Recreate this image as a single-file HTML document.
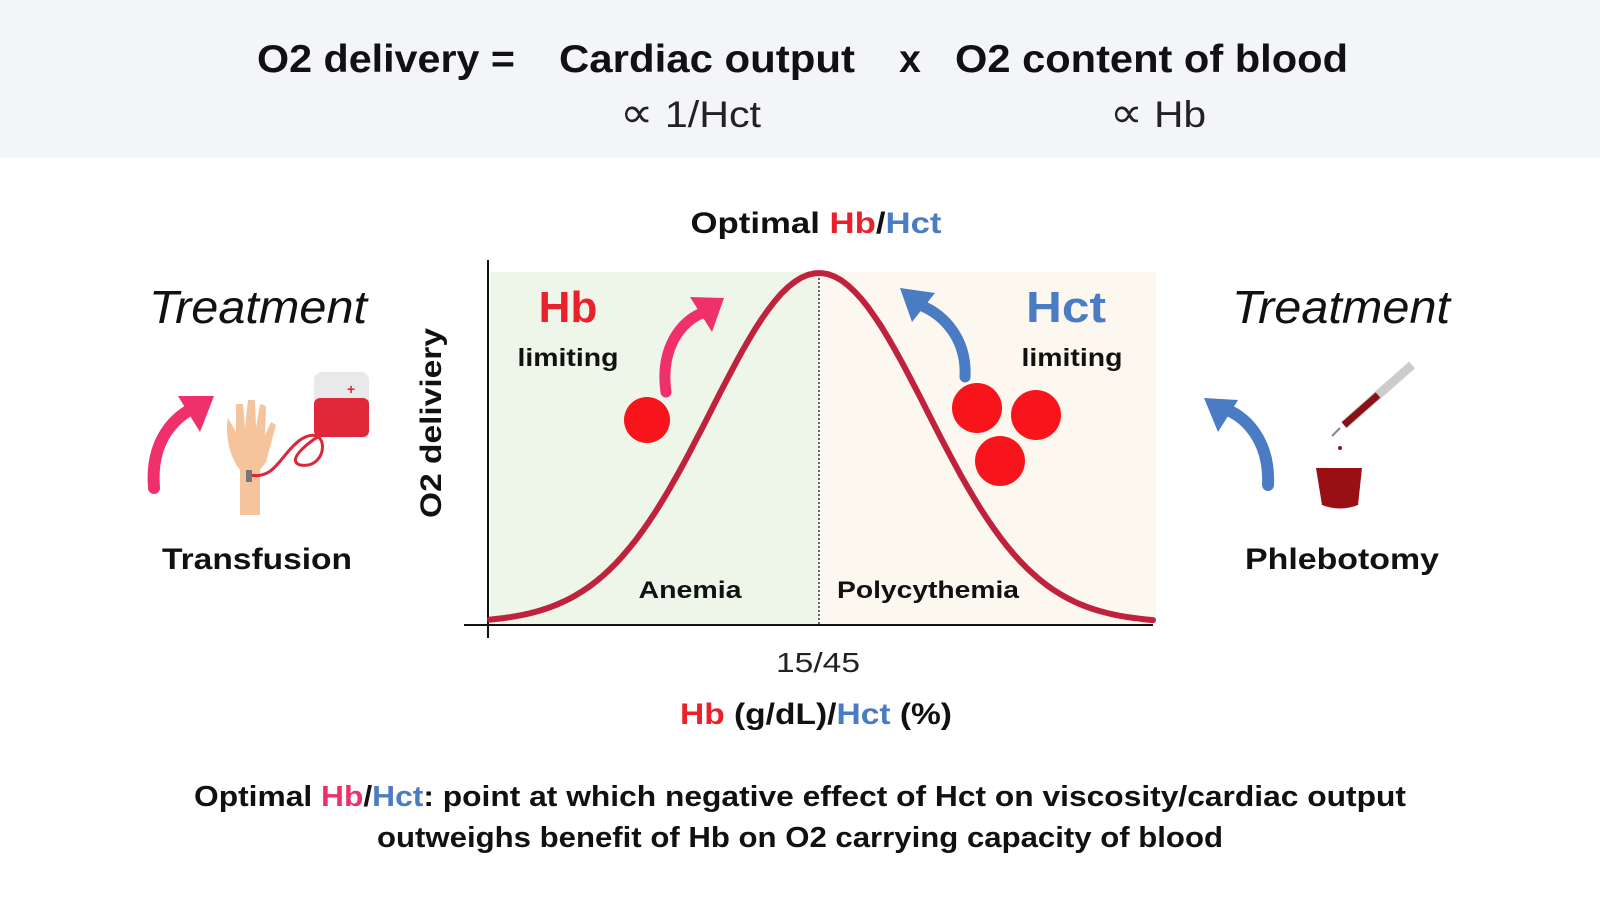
<!DOCTYPE html>
<html><head><meta charset="utf-8"><style>
body{margin:0;width:1600px;height:900px;background:#fff;overflow:hidden;font-family:"Liberation Sans","DejaVu Sans",sans-serif;}
</style></head><body>
<svg width="1600" height="900" viewBox="0 0 1600 900" xmlns="http://www.w3.org/2000/svg" font-family="Liberation Sans, DejaVu Sans, sans-serif">
<rect x="0" y="0" width="1600" height="158" fill="#f4f5f9"/>
<g font-weight="bold" font-size="39" fill="#111">
<text x="257" y="72" textLength="258" lengthAdjust="spacingAndGlyphs">O2 delivery =</text>
<text x="559" y="72" textLength="296" lengthAdjust="spacingAndGlyphs">Cardiac output</text>
<text x="910" y="72" text-anchor="middle">x</text>
<text x="955" y="72" textLength="393" lengthAdjust="spacingAndGlyphs">O2 content of blood</text>
</g>
<g font-size="37" fill="#222">
<text x="620" y="127" textLength="141" lengthAdjust="spacingAndGlyphs"><tspan font-family="DejaVu Sans" font-size="42">∝</tspan> 1/Hct</text>
<text x="1110" y="127" textLength="96" lengthAdjust="spacingAndGlyphs"><tspan font-family="DejaVu Sans" font-size="42">∝</tspan> Hb</text>
</g>
<text x="816" y="233" text-anchor="middle" font-weight="bold" font-size="30" fill="#111" textLength="251" lengthAdjust="spacingAndGlyphs">Optimal <tspan fill="#e8212a">Hb</tspan>/<tspan fill="#4a7cc4">Hct</tspan></text>

<rect x="490" y="272" width="329" height="352" fill="#eef6ea"/>
<rect x="821" y="272" width="335" height="352" fill="#fdf8ef"/>
<line x1="488" y1="260" x2="488" y2="638" stroke="#111" stroke-width="2"/>
<line x1="464" y1="625" x2="1153" y2="625" stroke="#111" stroke-width="2"/>
<line x1="819" y1="274" x2="819" y2="625" stroke="#333" stroke-width="1.5" stroke-dasharray="2,2"/>
<path id="curve" d="" fill="none" stroke="#c0223d" stroke-width="6" stroke-linecap="round"/>

<text x="568" y="322" text-anchor="middle" font-weight="bold" font-size="44" fill="#e8212a">Hb</text>
<text x="568" y="366" text-anchor="middle" font-weight="bold" font-size="25" fill="#111" textLength="101" lengthAdjust="spacingAndGlyphs">limiting</text>
<text x="1066" y="322" text-anchor="middle" font-weight="bold" font-size="44" fill="#4a7cc4" textLength="80" lengthAdjust="spacingAndGlyphs">Hct</text>
<text x="1072" y="366" text-anchor="middle" font-weight="bold" font-size="25" fill="#111" textLength="101" lengthAdjust="spacingAndGlyphs">limiting</text>
<g fill="#f7141a">
<circle cx="647" cy="420" r="23"/>
<circle cx="977" cy="408" r="25"/>
<circle cx="1036" cy="415" r="25"/>
<circle cx="1000" cy="461" r="25"/>
</g>
<path d="M666,392 C660,350 680,320 705,312" fill="none" stroke="#f0306a" stroke-width="11" stroke-linecap="round"/>
<polygon points="690,297 724,298 712,332" fill="#f0306a"/>
<path d="M965,377 C967,340 945,315 920,305" fill="none" stroke="#4a7cc4" stroke-width="11" stroke-linecap="round"/>
<polygon points="900,288 935,293 912,322" fill="#4a7cc4"/>

<text x="690" y="598" text-anchor="middle" font-weight="bold" font-size="24" fill="#111" textLength="103" lengthAdjust="spacingAndGlyphs">Anemia</text>
<text x="928" y="598" text-anchor="middle" font-weight="bold" font-size="24" fill="#111" textLength="182" lengthAdjust="spacingAndGlyphs">Polycythemia</text>
<text transform="translate(441,423) rotate(-90)" text-anchor="middle" font-weight="bold" font-size="30" fill="#111" textLength="190" lengthAdjust="spacingAndGlyphs">O2 deliviery</text>
<text x="818" y="672" text-anchor="middle" font-size="28" fill="#222" textLength="84" lengthAdjust="spacingAndGlyphs">15/45</text>
<text x="816" y="724" text-anchor="middle" font-weight="bold" font-size="30" fill="#111" textLength="272" lengthAdjust="spacingAndGlyphs"><tspan fill="#e8212a">Hb</tspan> (g/dL)/<tspan fill="#4a7cc4">Hct</tspan> (%)</text>

<g font-style="italic" font-size="46" fill="#111">
<text x="258" y="323" text-anchor="middle" textLength="218" lengthAdjust="spacingAndGlyphs">Treatment</text>
<text x="1341" y="323" text-anchor="middle" textLength="218" lengthAdjust="spacingAndGlyphs">Treatment</text>
</g>
<g font-weight="bold" font-size="30" fill="#111">
<text x="257" y="569" text-anchor="middle" textLength="190" lengthAdjust="spacingAndGlyphs">Transfusion</text>
<text x="1342" y="569" text-anchor="middle" textLength="194" lengthAdjust="spacingAndGlyphs">Phlebotomy</text>
</g>

<!-- left icons -->
<path d="M154,488 C150,440 175,415 200,405" fill="none" stroke="#f0306a" stroke-width="12" stroke-linecap="round"/>
<polygon points="178,396 214,396 200,432" fill="#f0306a"/>
<path d="M240,515 L240,470 C228,455 225,430 228,418 L236,432 L236,404 L243,404 L245,428 L248,400 L255,400 L256,428 L260,404 L266,406 L265,435 L271,422 L276,425 L266,462 L260,470 L260,515 Z" fill="#f5c49c"/>
<path d="M250,475 C275,480 280,455 300,440 C330,420 330,470 300,465 C285,460 310,440 330,430" fill="none" stroke="#d8283a" stroke-width="3"/>
<rect x="314" y="372" width="55" height="65" rx="8" fill="#e9e9ec"/>
<rect x="314" y="398" width="55" height="39" rx="6" fill="#e0283a"/>
<text x="347" y="394" font-size="14" fill="#e0283a" font-weight="bold">+</text>
<rect x="246" y="470" width="6" height="12" fill="#777"/>

<!-- right icons -->
<path d="M1268,485 C1270,440 1245,415 1222,408" fill="none" stroke="#4a7cc4" stroke-width="12" stroke-linecap="round"/>
<polygon points="1204,398 1238,400 1218,432" fill="#4a7cc4"/>
<line x1="1344" y1="425" x2="1412" y2="365" stroke="#ccc" stroke-width="9"/>
<line x1="1344" y1="425" x2="1378" y2="395" stroke="#8a1018" stroke-width="7"/>
<line x1="1340" y1="428" x2="1332" y2="436" stroke="#888" stroke-width="2"/>
<circle cx="1340" cy="448" r="2" fill="#a01018"/>
<path d="M1316,468 L1362,468 L1358,505 Q1340,512 1322,505 Z" fill="#9a0f14"/>

<g font-weight="bold" font-size="29" fill="#111" text-anchor="middle">
<text x="800" y="806" textLength="1212" lengthAdjust="spacingAndGlyphs">Optimal <tspan fill="#f0306a">Hb</tspan>/<tspan fill="#4a7cc4">Hct</tspan>: point at which negative effect of Hct on viscosity/cardiac output</text>
<text x="800" y="847" textLength="846" lengthAdjust="spacingAndGlyphs">outweighs benefit of Hb on O2 carrying capacity of blood</text>
</g>
</svg>
<script>
var d="";for(var i=0;i<=100;i++){var x=490+i*6.63;var t=(x-819)/108;var y=623-350*Math.exp(-t*t/2);d+=(i?"L":"M")+x.toFixed(1)+","+y.toFixed(1);}
document.getElementById("curve").setAttribute("d",d);
</script>
</body></html>
